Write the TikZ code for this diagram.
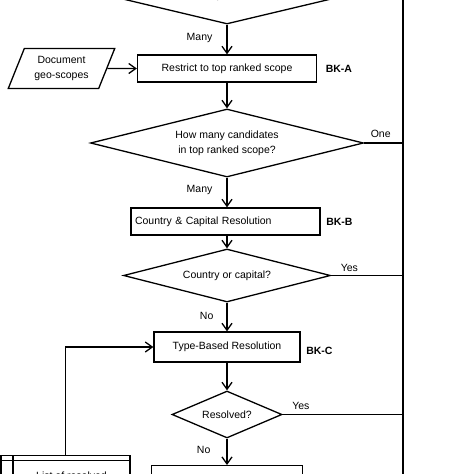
\documentclass[tikz,border=0pt]{standalone}
\usepackage{fontspec}
\setmainfont{Liberation Sans}
\usetikzlibrary{shapes.geometric,arrows.meta,positioning,calc}

\begin{document}
\begin{tikzpicture}[
    x=1pt, y=-1pt,
    line width=1.3pt,
    every node/.style={font=\fontsize{10.5}{15}\selectfont},
    proc/.style={rectangle, draw, inner sep=4pt, text centered},
    decision/.style={diamond, draw, aspect=4, inner sep=0pt, align=center},
    inout/.style={trapezium, trapezium left angle=67, trapezium right angle=113,
                  trapezium stretches=true, draw, align=center,
                  minimum width=107pt, minimum height=40pt},
    store/.style={rectangle, draw, minimum width=129pt, minimum height=60pt,
                  path picture={
                    \draw ([xshift=12pt]path picture bounding box.north west) -- ([xshift=12pt]path picture bounding box.south west);
                    \draw ([yshift=-5pt]path picture bounding box.north west) -- ([yshift=-5pt]path picture bounding box.north east);}},
    bk/.style={font=\fontsize{10.5}{15}\selectfont\bfseries, inner sep=3pt},
    lbl/.style={inner sep=2pt},
    arrow/.style={-{Straight Barb[length=7pt,width=10pt]}}
]
\useasboundingbox (0,0) rectangle (474,474);
\clip (0,0) rectangle (474,474);

% Main column
\node[decision, minimum width=234pt, minimum height=56pt] (cands) at (227,-4) {\raisebox{2pt}{How many candidates?}};
\node[proc, minimum width=179pt, minimum height=27pt] (restrict) at (227,68.5) {Restrict to top ranked scope};
\node[decision, minimum width=273pt, minimum height=68pt] (topcands) at (227,143) {How many candidates\\in top ranked scope?};
\node[proc, text width=181pt, align=left, minimum height=27pt] (country) at (225.5,221.5) {Country \& Capital Resolution};
\node[decision, minimum width=207pt, minimum height=53pt] (iscountry) at (227,275.5) {Country or capital?};
\node[proc, minimum width=146pt, minimum height=30pt] (typeres) at (227,347) {Type-Based Resolution};
\node[decision, minimum width=110pt, minimum height=47pt] (resolved) at (227,414.5) {Resolved?};
\node[proc, minimum width=151pt, minimum height=40pt, anchor=north] (nextres) at (227,465) {};

% Side nodes
\node[inout] (docscopes) at (61.5,68.5) {Document\\geo-scopes};
\node[store, anchor=north] (reslist) at (65.5,455) {};
\node[anchor=north, inner sep=0pt] (reslisttxt) at (71.5,471) {List of resolved};

% Block labels
\node[bk, right=5pt of restrict] (bka) {BK-A};
\node[bk, right=2pt of country] (bkb) {BK-B};
\node[bk, right=2pt of typeres, yshift=-4pt] (bkc) {BK-C};

% Merge line
\coordinate (railtop) at (403,-10);
\coordinate (railbot) at (403,490);
\draw (railtop) -- (railbot);

% Arrows down
\draw[arrow] (cands.south) -- node[lbl, left=12pt, pos=0.45] (many1) {Many} (restrict.north);
\draw[arrow] (restrict) -- (topcands);
\draw[arrow] (topcands.south) -- node[lbl, left=12pt, pos=0.42] (many2) {Many} (topcands.south |- country.north);
\draw[arrow] (country.south -| iscountry) -- (iscountry.north);
\draw[arrow] (iscountry) -- node[lbl, left=11pt, pos=0.47] (no1) {No} (typeres);
\draw[arrow] (typeres) -- (resolved);
\draw[arrow] (resolved) -- node[lbl, left=14pt, pos=0.44] (no2) {No} (nextres);

% Side arrows
\draw[arrow] (docscopes) -- (restrict);
\draw[arrow] (reslist.north) |- (typeres.west);

% Branches to merge line
\draw (topcands.east) -- node[lbl, at start, anchor=south west, xshift=4pt, yshift=3pt] (one) {One} (topcands.east -| railtop);
\draw (iscountry.east) -- node[lbl, at start, anchor=south west, xshift=7pt, yshift=1pt] (yes1) {Yes} (iscountry.east -| railtop);
\draw (resolved.east) -- node[lbl, at start, anchor=south west, xshift=7pt, yshift=2pt] (yes2) {Yes} (resolved.east -| railtop);

\end{tikzpicture}
\end{document}
